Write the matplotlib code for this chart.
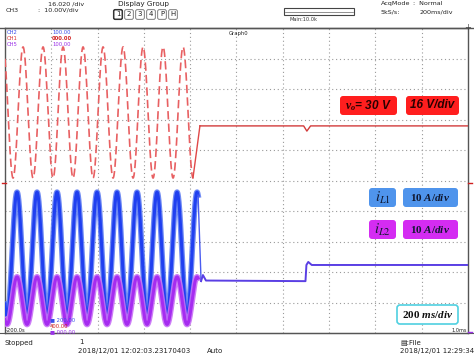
import numpy as np
import matplotlib
matplotlib.use("Agg")
import matplotlib.pyplot as plt
from matplotlib.patches import FancyBboxPatch, Rectangle

plt.rcParams["mathtext.fontset"] = "custom"
plt.rcParams["mathtext.rm"] = "Liberation Serif:bold"
plt.rcParams["mathtext.it"] = "Liberation Serif:italic:bold"
plt.rcParams["mathtext.bf"] = "Liberation Serif:bold"

# ---------------- data ----------------
# time axis: 10 div x 200 ms/div ; vertical: 10 div
time_per_div_ms = 200
n_div = 10
step_time_ms = [812, 842]            # start / end of the load transition
# output voltage vo (red), in div
vo_period_ms = 86.4
vo_first_peak_ms = 78
vo_peak_trough_div = [9.38, 5.08]
vo_after_div = 6.79
vo_dip_ms = [1290, 1304, 1320]
vo_dip_div = [6.79, 6.62, 6.79]
# inductor current iL1 (blue), in div
il_period_ms = 86.4
il_first_peak_ms = 52
il1_peak_trough_div = [4.62, 0.55]
# inductor current iL2 (purple), in div
il2_peak_trough_div = [1.84, 0.28]
il_after_times_ms = [847, 855, 868, 1298, 1302, 1310, 1325, 2000]
il_after_div = [1.70, 1.90, 1.72, 1.70, 2.23, 2.33, 2.23, 2.23]

# ---------------- figure ----------------
W, H = 474, 355
fig = plt.figure(figsize=(W / 100, H / 100), dpi=100)
fig.patch.set_facecolor("white")

L, R, T, B = 5, 468, 28, 333
ax = fig.add_axes([L / W, 1 - B / H, (R - L) / W, (B - T) / H])
ax.set_xlim(0, n_div * time_per_div_ms)
ax.set_ylim(0, n_div)
ax.set_xticks([])
ax.set_yticks([])
for s in ax.spines.values():
    s.set_color("#555555")
    s.set_linewidth(1.0)
for k in range(1, n_div):
    ax.axvline(k * time_per_div_ms, color="#9a9a9a", ls=(0, (1, 2.5)), lw=0.8, zorder=0)
    ax.axhline(k, color="#9a9a9a", ls=(0, (1, 2.5)), lw=0.8, zorder=0)

# --- vo (red) ---
t = np.linspace(0, step_time_ms[0], 2000)
vc = (vo_peak_trough_div[0] + vo_peak_trough_div[1]) / 2
va = (vo_peak_trough_div[0] - vo_peak_trough_div[1]) / 2
vo = vc + va * np.cos(2 * np.pi * (t - vo_first_peak_ms) / vo_period_ms)
ax.plot(t, vo, color="#e86062", lw=1.2, ls=(0, (5, 2.5)), zorder=3)
ax.plot([step_time_ms[0], step_time_ms[1]], [vo[-1], vo_after_div], color="#e04848", lw=1.0, zorder=3)
ax.plot([step_time_ms[1], vo_dip_ms[0]] + vo_dip_ms[1:] + [2000],
        [vo_after_div] + vo_dip_div + [vo_after_div], color="#d23a3a", lw=1.0, zorder=3)

# --- iL1 (blue) and iL2 (purple) ---
t2 = np.linspace(0, 834, 3000)
ph = 2 * np.pi * (t2 - il_first_peak_ms) / il_period_ms
c1 = (il1_peak_trough_div[0] + il1_peak_trough_div[1]) / 2
a1 = (il1_peak_trough_div[0] - il1_peak_trough_div[1]) / 2
c2 = (il2_peak_trough_div[0] + il2_peak_trough_div[1]) / 2
a2 = (il2_peak_trough_div[0] - il2_peak_trough_div[1]) / 2
il1 = c1 + a1 * np.cos(ph)
il2 = c2 + a2 * np.cos(ph)
ax.plot(t2, il1, color="#5676f2", lw=4.0, alpha=0.85, zorder=4)
ax.plot(t2, il1, color="#2040f0", lw=2.2, zorder=5)
ax.plot(t2, il2, color="#c870f6", lw=4.2, alpha=0.9, zorder=6)
ax.plot(t2, il2, color="#a62cf0", lw=2.2, zorder=7)
ax.plot([834, il_after_times_ms[0]], [il1[-1], il_after_div[0]], color="#4a5cf0", lw=1.0, zorder=7)
ax.plot(il_after_times_ms, il_after_div, color="#5a3fe4", lw=1.4, zorder=7)

# ---------------- overlay (pixel coordinates) ----------------
ov = fig.add_axes([0, 0, 1, 1], zorder=10)
ov.set_xlim(0, W)
ov.set_ylim(H, 0)
ov.axis("off")
ov.patch.set_alpha(0)

ov.plot([0, W], [27.5, 27.5], color="#555555", lw=1.0)
ov.plot([0, W], [333, 333], color="#555555", lw=0.8)

fs_small = 4.6
mono = "DejaVu Sans"
ov.text(48, 3.5, "16.020 /div", fontsize=fs_small, va="center", family=mono, color="#222")
ov.text(6, 10.5, "CH3", fontsize=fs_small, va="center", family=mono, color="#222")
ov.text(38, 10.5, ":  10.00V/div", fontsize=fs_small, va="center", family=mono, color="#222")
ov.text(118, 4, "Display Group", fontsize=5.2, va="center", family=mono, color="#222")
for i, lab in enumerate(["1", "2", "3", "4", "P", "H"]):
    x0 = 113 + i * 11
    ov.add_patch(FancyBboxPatch((x0 + 1, 10), 8, 9, boxstyle="round,pad=0.3,rounding_size=1.5",
                                fc="white", ec="#333" if i == 0 else "#666", lw=1.1 if i == 0 else 0.6))
    ov.text(x0 + 5, 14.5, lab, fontsize=5, ha="center", va="center", family=mono, color="#222")
ov.add_patch(Rectangle((284, 8), 70, 7, fc="white", ec="#444", lw=0.8))
ov.plot([285, 353], [11.5, 11.5], color="#666", lw=0.5)
ov.text(290, 19.5, "Main:10.0k", fontsize=3.6, va="center", family=mono, color="#333")
ov.text(381, 3.5, "AcqMode", fontsize=fs_small, va="center", family=mono, color="#222")
ov.text(413, 3.5, ":  Normal", fontsize=fs_small, va="center", family=mono, color="#222")
ov.text(381, 12, "5kS/s:", fontsize=fs_small, va="center", family=mono, color="#222")
ov.text(420, 12, "200ms/div", fontsize=fs_small, va="center", family=mono, color="#222")
ov.text(468, 28, "+", fontsize=6, ha="center", va="center", color="#444")

# channel labels inside the plot
ov.text(7, 33, "CH2", fontsize=3.8, va="center", color="#3a4ee8", family=mono)
ov.text(7, 39, "CH1", fontsize=3.8, va="center", color="#d83030", family=mono)
ov.text(7, 45, "CH5", fontsize=3.8, va="center", color="#9a30e8", family=mono)
ov.text(52, 33, "100.00", fontsize=3.8, va="center", color="#3a4ee8", family=mono)
ov.text(52, 39, "000.00", fontsize=3.8, va="center", color="#d02020", family=mono, weight="bold")
ov.text(52, 45, "100.00", fontsize=3.8, va="center", color="#9a30e8", family=mono)
ov.text(229, 33, "Graph0", fontsize=3.8, va="center", color="#222", family=mono)
ov.text(50, 320, "\u25a0 200.00", fontsize=3.8, va="center", color="#3a4ee8", family=mono)
ov.text(50, 326, "400.00", fontsize=3.8, va="center", color="#d02020", family=mono)
ov.text(50, 331.5, "\u25a0 000.00", fontsize=3.8, va="center", color="#9a30e8", family=mono)
ov.text(6, 330.5, "-200.0s", fontsize=3.8, va="center", color="#222", family=mono)
ov.text(452, 331, "1.0ms", fontsize=3.6, va="center", color="#222", family=mono)
ov.plot([2, 6], [183, 183], color="#d02020", lw=1.0)
ov.plot([468, 472], [183, 183], color="#d02020", lw=1.0)
ov.plot([468, 472], [332, 332], color="#9a30e8", lw=1.0)

# bottom status line
ov.text(5, 342.5, "Stopped", fontsize=5, va="center", family=mono, color="#222")
ov.text(79, 342.5, "1", fontsize=5, va="center", family=mono, color="#222")
ov.text(78, 351, "2018/12/01 12:02:03.23170403", fontsize=5, va="center", family=mono, color="#222")
ov.text(207, 351, "Auto", fontsize=5, va="center", family=mono, color="#222")
ov.text(400, 342.5, "\u25a4:File", fontsize=5, va="center", family=mono, color="#222")
ov.text(400, 351, "2018/12/01 12:29:34", fontsize=5, va="center", family=mono, color="#222")

# annotation boxes
def box(x0, y0, x1, y1, fc, ec=None, lw=0.0):
    ov.add_patch(FancyBboxPatch((x0 + 2, y0 + 2), x1 - x0 - 4, y1 - y0 - 4,
                                boxstyle="round,pad=2,rounding_size=3",
                                fc=fc, ec=ec if ec else fc, lw=lw))

box(340, 96, 397, 115, "#ff1e1e")
box(406, 96, 459, 115, "#ff1e1e")
ov.text(368.5, 105.5, r"$v_o$= 30 V", fontsize=8.5, ha="center", va="center",
        family="Liberation Sans", weight="bold", style="italic", color="#2a0000")
ov.text(432.5, 105.5, "16 V/div", fontsize=8.5, ha="center", va="center",
        family="Liberation Sans", weight="bold", style="italic", color="#2a0000")

box(369, 188, 396, 207, "#4f94ec")
box(403, 188, 458, 207, "#4f94ec")
box(369, 220, 396, 239, "#d42cf2")
box(403, 220, 458, 239, "#d42cf2")
ov.text(382.5, 197.5, r"$i_{L1}$", fontsize=10.5, ha="center", va="center", color="#101830",
        math_fontfamily="stix")
ov.text(382.5, 229.5, r"$i_{L2}$", fontsize=10.5, ha="center", va="center", color="#101830",
        math_fontfamily="stix")
for yy in (197.5, 229.5):
    ov.text(430.5, yy, r"10 $\mathit{A/div}$", fontsize=8, ha="center", va="center",
            family="Liberation Serif", weight="bold", color="#101830")

box(397, 305, 458, 324, "white", ec="#4fd0e0", lw=1.2)
ov.text(427.5, 314.5, r"200 $\mathit{ms/div}$", fontsize=8, ha="center", va="center",
        family="Liberation Serif", weight="bold", color="#101010")

fig.savefig("out.png", dpi=100, facecolor="white")
